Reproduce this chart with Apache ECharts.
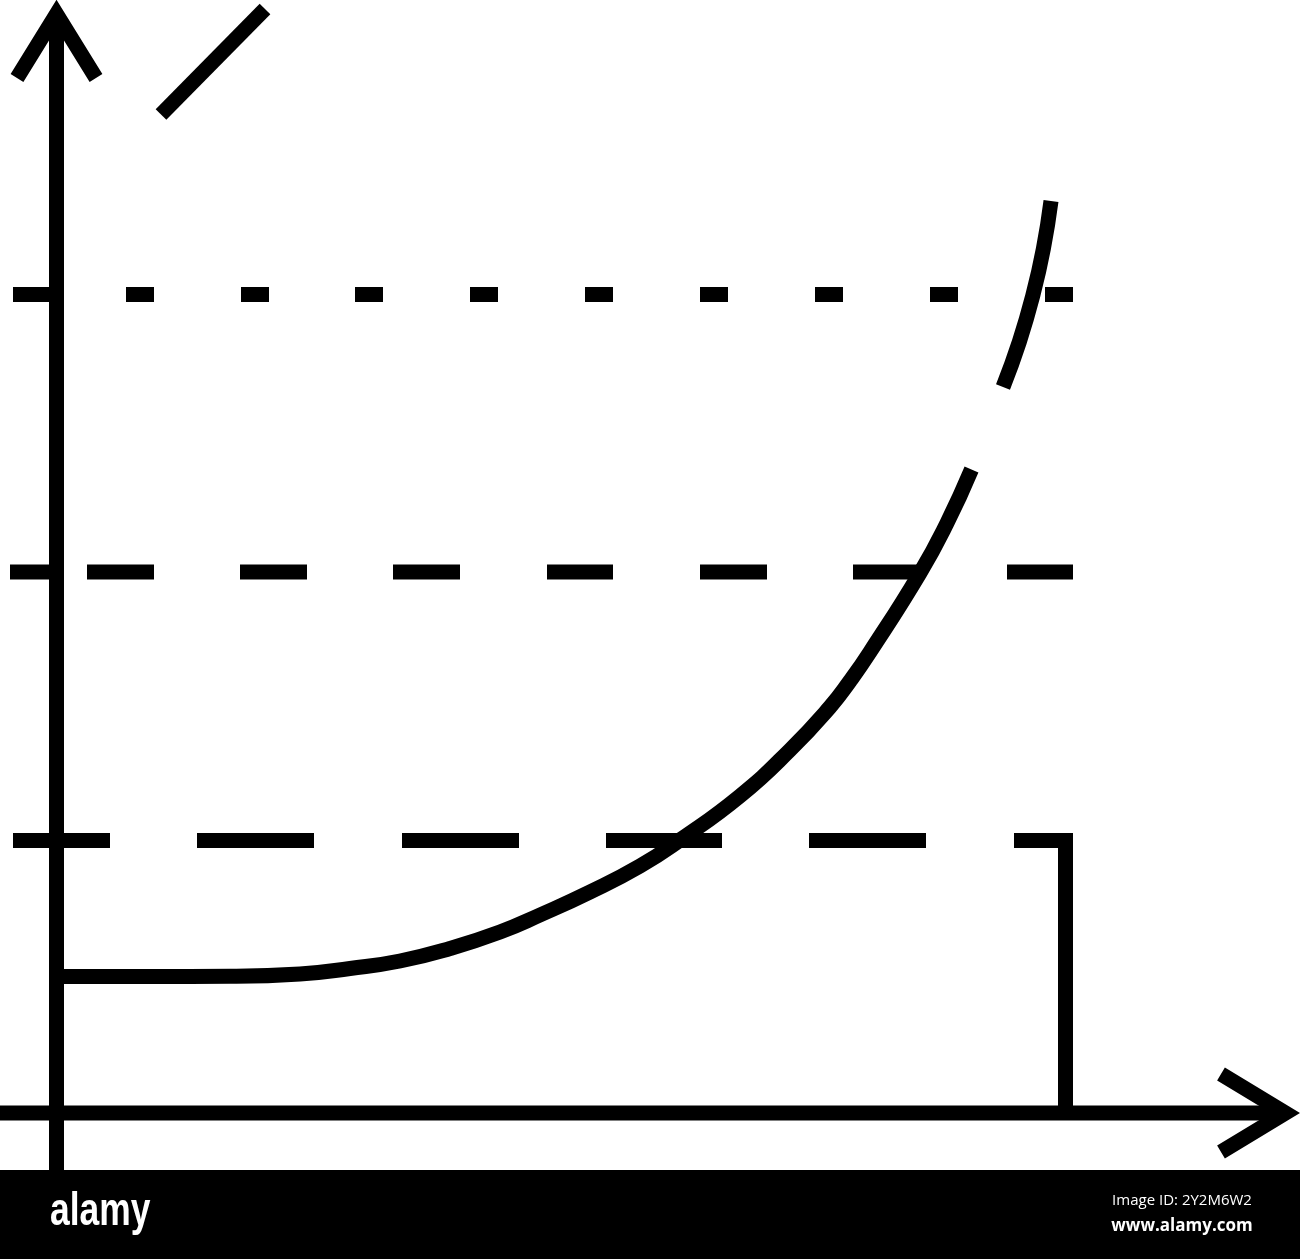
<!DOCTYPE html>
<html><head><meta charset="utf-8">
<script src="https://cdn.jsdelivr.net/npm/echarts@6/dist/echarts.min.js"></script>
<style>html,body{margin:0;padding:0;background:#fff}#c{width:1300px;height:1259px}</style>
</head><body><div id="c"></div>
<script>
// ---- data (units: 1 = 100 px of the original drawing, origin at the axis crossing) ----
const xAxisLine = [[-0.565, 0], [12.2, 0]];
const xArrowHead = [[11.645, 0.39], [12.29, 0], [11.645, -0.39]];
const yAxisLine = [[0, -0.57], [0, 10.9]];
const yArrowHead = [[-0.395, 10.35], [0, 10.99], [0.395, 10.35]];
const diagonalMark = [[1.045, 9.985], [2.085, 11.04]];

const dottedLevel = 8.185;
const dottedSegments = [[-0.435, 0], [0.695, 0.975], [1.845, 2.125], [2.985, 3.265], [4.135, 4.415],
  [5.285, 5.565], [6.435, 6.715], [7.585, 7.865], [8.735, 9.015], [9.885, 10.165]];

const dashedLevel = 5.41;
const dashedSegments = [[-0.465, 0], [0.305, 0.975], [1.835, 2.505], [3.365, 4.035], [4.905, 5.565],
  [6.435, 7.105], [7.965, 8.635], [9.505, 10.165]];

const longDashLevel = 2.725;
const longDashSegments = [[-0.435, 0.535], [1.405, 2.575], [3.455, 4.625], [5.495, 6.655], [7.525, 8.695]];
const stepLine = [[9.575, 2.725], [10.09, 2.725], [10.09, 0]];

const curveLower = [[0, 1.365], [0.935, 1.365], [1.735, 1.367], [2.435, 1.39], [2.935, 1.445], [3.435, 1.52],
  [3.935, 1.645], [4.435, 1.81], [4.835, 1.98], [5.335, 2.21], [5.835, 2.47], [6.235, 2.73], [6.835, 3.17],
  [7.335, 3.63], [7.735, 4.06], [7.935, 4.32], [8.135, 4.61], [8.635, 5.40], [8.905, 5.90], [9.15, 6.435]];
const curveUpper = [[9.465, 7.26], [9.629, 7.714], [9.763, 8.175], [9.869, 8.644], [9.945, 9.12]];

// ---- build ----
const ink = { color: '#000', width: 15, cap: 'butt', join: 'miter', miterLimit: 10 };
function seg(data, extra) {
  return Object.assign({
    type: 'line', data: data, symbol: 'none', silent: true, animation: false, clip: false,
    lineStyle: ink, emphasis: { disabled: true }
  }, extra || {});
}
const series = [];
series.push(seg(xAxisLine), seg(xArrowHead), seg(yAxisLine), seg(yArrowHead), seg(diagonalMark));
dottedSegments.forEach(([a, b]) => series.push(seg([[a, dottedLevel], [b, dottedLevel]])));
dashedSegments.forEach(([a, b]) => series.push(seg([[a, dashedLevel], [b, dashedLevel]])));
longDashSegments.forEach(([a, b]) => series.push(seg([[a, longDashLevel], [b, longDashLevel]])));
series.push(seg(stepLine));
series.push(seg(curveLower, { smooth: 0.5 }));
series.push(seg(curveUpper, { smooth: 0.5 }));

const chart = echarts.init(document.getElementById('c'), null, { renderer: 'canvas' });
chart.setOption({
  backgroundColor: '#fff',
  animation: false,
  grid: { left: 0, top: 0, width: 1300, height: 1170, show: false },
  xAxis: { type: 'value', min: -0.565, max: 12.435, show: false },
  yAxis: { type: 'value', min: -0.57, max: 11.13, show: false },
  series: series,
  graphic: [
    { type: 'rect', left: 0, top: 1170, shape: { width: 1300, height: 89 }, style: { fill: '#000' }, silent: true, z: 10 },
    { type: 'text', x: 50, y: 1212, scaleX: 0.77, z: 11, silent: true,
      style: { text: 'alamy', fill: '#fff', font: 'bold 46px "Liberation Sans Narrow", "Liberation Sans", sans-serif', align: 'left', verticalAlign: 'middle' } },
    { type: 'text', x: 1182, y: 1201, z: 11, silent: true,
      style: { text: 'Image ID: 2Y2M6W2', fill: '#fff', font: '15px "Open Sans", sans-serif', align: 'center', verticalAlign: 'middle' } },
    { type: 'text', x: 1182, y: 1226, z: 11, silent: true,
      style: { text: 'www.alamy.com', fill: '#fff', font: 'bold 17px "Open Sans", sans-serif', align: 'center', verticalAlign: 'middle' } }
  ]
});
</script>
</body></html>
